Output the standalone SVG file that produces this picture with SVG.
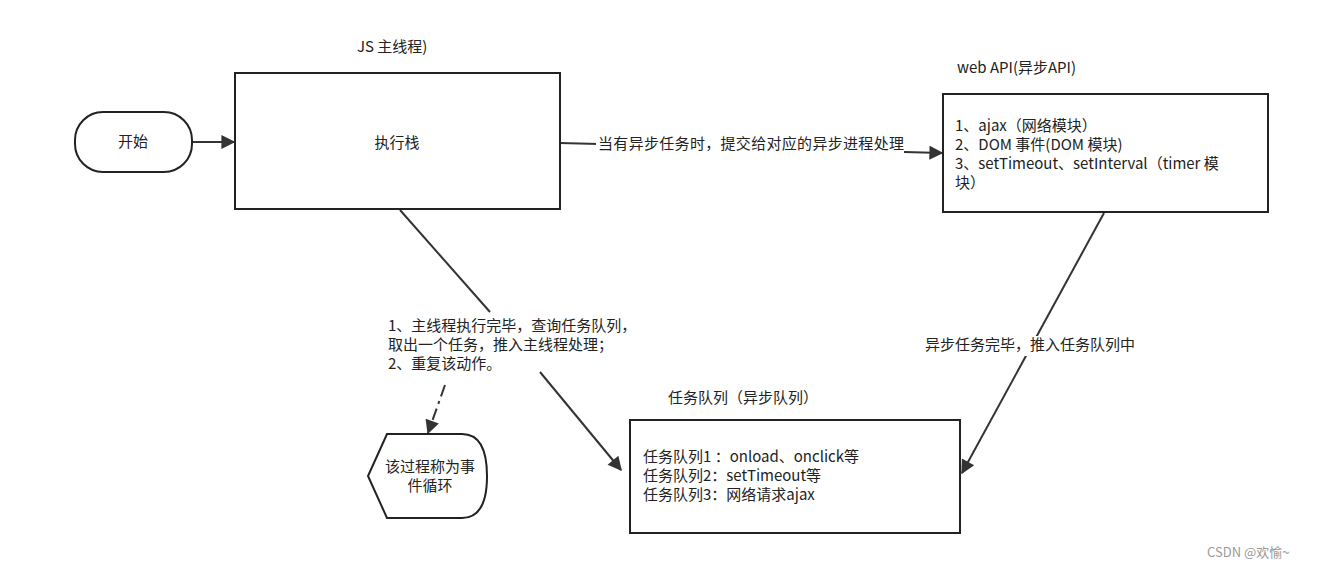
<svg xmlns="http://www.w3.org/2000/svg" width="1318" height="569" viewBox="0 0 1318 569">
<style>
text{font-family:"Noto Sans CJK SC","Liberation Sans",sans-serif;font-size:15px;fill:#222}
.b{fill:#fff;stroke:#222;stroke-width:2}
.c{stroke:#333;stroke-width:2;fill:none}
</style>
<defs>
<marker id="m" viewBox="0 0 10 10" refX="9" refY="5" markerWidth="16" markerHeight="14" orient="auto" markerUnits="userSpaceOnUse"><path d="M0,0L10,5L0,10z" fill="#333"/></marker></defs>
<rect width="1318" height="569" fill="#fff"/>
<g id="connectors">
<path class="c" d="M192,142H234" marker-end="url(#m)"/>
<path class="c" d="M560,143L942,153" marker-end="url(#m)"/>
<path class="c" d="M400,210L490,312"/>
<path class="c" d="M540,372L621,470" marker-end="url(#m)"/>
<path class="c" d="M445,385L428,433" stroke-dasharray="12,5,3,5" marker-end="url(#m)"/>
<path class="c" d="M1104,213L962,473" marker-end="url(#m)"/>
</g>
<g id="start"><rect class="b" x="75" y="112" width="117" height="60" rx="28"/><text x="133" y="147" text-anchor="middle">开始</text></g>
<g id="stack"><text x="357" y="52">JS 主线程)</text><rect class="b" x="235" y="73" width="325" height="136"/><text x="397" y="148" text-anchor="middle">执行栈</text></g>
<g id="webapi"><text x="957" y="73">web API(异步API)</text><rect class="b" x="943" y="94" width="325" height="118"/>
<text x="955" y="131">1、ajax（网络模块）</text><text x="955" y="150">2、DOM 事件(DOM 模块)</text><text x="955" y="169">3、setTimeout、setInterval（timer 模</text><text x="955" y="188">块）</text></g>
<g id="label1"><rect x="596" y="134" width="308" height="20" fill="#fff"/><text x="598" y="149" textLength="306">当有异步任务时，提交给对应的异步进程处理</text></g>
<g id="label2"><rect x="923" y="336" width="218" height="20" fill="#fff"/><text x="925" y="350">异步任务完毕，推入任务队列中</text></g>
<g id="label3"><text x="388" y="331">1、主线程执行完毕，查询任务队列，</text><text x="388" y="350">取出一个任务，推入主线程处理；</text><text x="388" y="369">2、重复该动作。</text></g>
<g id="queue"><text x="668" y="403">任务队列（异步队列）</text><rect class="b" x="630" y="420" width="330" height="113"/>
<text x="643" y="462">任务队列1 ：onload、onclick等</text><text x="643" y="481">任务队列2：setTimeout等</text><text x="643" y="500">任务队列3：网络请求ajax</text></g>
<g id="loop"><path class="b" d="M387,434H462Q487,434 487,476Q487,518 462,518H387L368,476Z"/><text x="430" y="472" text-anchor="middle">该过程称为事</text><text x="430" y="491" text-anchor="middle">件循环</text></g>
<text x="1207" y="557" style="font-size:13px;fill:#999">CSDN @欢愉~</text>
</svg>
